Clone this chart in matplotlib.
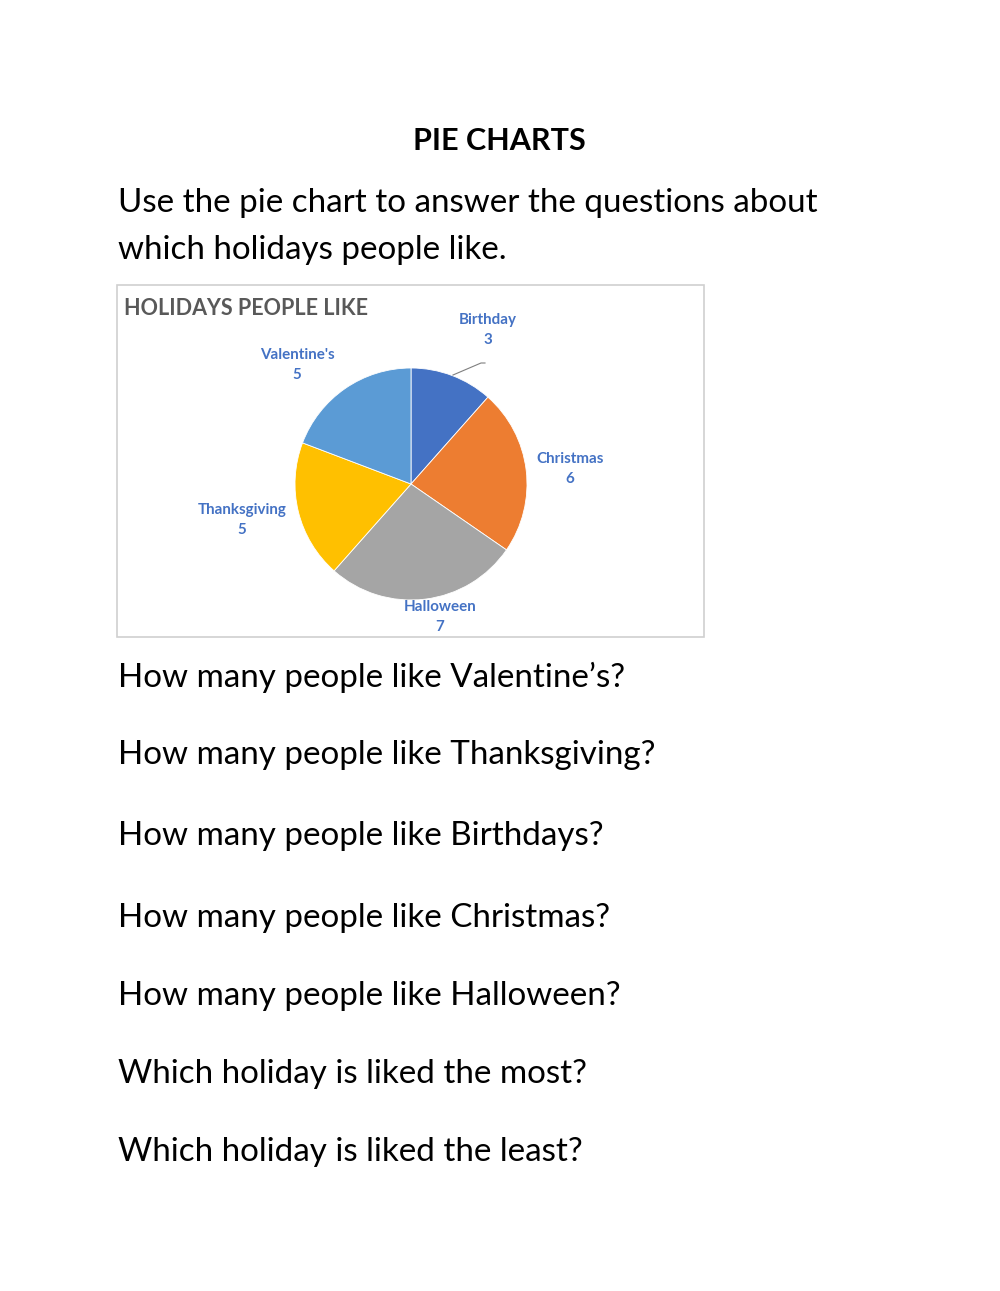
import matplotlib
matplotlib.use("Agg")
import matplotlib.pyplot as plt
from matplotlib.patches import Rectangle

plt.rcParams['font.family'] = ['Lato', 'DejaVu Sans']

# ---- data ----
holidays = ["Birthday", "Christmas", "Halloween", "Thanksgiving", "Valentine's"]
counts = [3, 6, 7, 5, 5]
colors = ["#4472C4", "#ED7D31", "#A5A5A5", "#FFC000", "#5B9BD5"]
page_title = "PIE CHARTS"
intro_lines = ["Use the pie chart to answer the questions about",
               "which holidays people like."]
chart_title = "HOLIDAYS PEOPLE LIKE"
questions = ["How many people like Valentine\u2019s?",
             "How many people like Thanksgiving?",
             "How many people like Birthdays?",
             "How many people like Christmas?",
             "How many people like Halloween?",
             "Which holiday is liked the most?",
             "Which holiday is liked the least?"]

W, H = 1000, 1291
fig = plt.figure(figsize=(W / 100, H / 100), dpi=100)
fig.patch.set_facecolor("white")
renderer = fig.canvas.get_renderer()


def fy(y):
    return 1 - y / H


def fit_size(text, target_px, weight="normal"):
    t = fig.text(0, 0, text, fontsize=10, fontweight=weight)
    w = t.get_window_extent(renderer).width
    t.remove()
    return 10 * target_px / w


body_size = fit_size(intro_lines[0], 700)
title_size = fit_size(page_title, 172, "bold")
ctitle_size = fit_size(chart_title, 244, "bold")
label_size = fit_size("Birthday", 58, "bold")

fig.text(499 / W, fy(150), page_title, fontsize=title_size, fontweight="bold",
         ha="center", va="baseline", color="black")
for txt, yb in zip(intro_lines, [212, 259]):
    fig.text(118 / W, fy(yb), txt, fontsize=body_size, ha="left", va="baseline", color="black")

q_baselines = [687, 764, 845, 927, 1005, 1083, 1161]
for txt, yb in zip(questions, q_baselines):
    fig.text(118 / W, fy(yb), txt, fontsize=body_size, ha="left", va="baseline", color="black")

# chart frame
fig.patches.append(Rectangle((117 / W, fy(637)), (704 - 117) / W, (637 - 285) / H,
                             transform=fig.transFigure, fill=False,
                             edgecolor="#D0D0D0", linewidth=1.2))
fig.text(124 / W, fy(315), chart_title, fontsize=ctitle_size, fontweight="bold",
         color="#595959", ha="left", va="baseline")

# pie axes
cx, cy, r = 411, 484, 116
ax = fig.add_axes([(cx - r) / W, fy(cy + r), 2 * r / W, 2 * r / H])
ax.pie(counts, colors=colors, startangle=90, counterclock=False, radius=1,
       wedgeprops=dict(edgecolor="white", linewidth=0.6))
ax.set_xlim(-1, 1)
ax.set_ylim(-1, 1)
ax.set_aspect("equal")
ax.axis("off")

label_pos = {"Birthday": (488, 330), "Christmas": (570, 469), "Halloween": (440, 617),
             "Thanksgiving": (242, 520), "Valentine's": (297, 365)}
for name, val in zip(holidays, counts):
    px, py = label_pos[name]
    ax.text((px - cx) / r, (cy - py) / r, f"{name}\n{val}", fontsize=label_size,
            fontweight="bold", color="#4472C4", ha="center", va="center",
            linespacing=1.6, clip_on=False)

# leader line for Birthday
ax.plot([(453 - cx) / r, (481 - cx) / r, (485 - cx) / r],
        [(cy - 375) / r, (cy - 363) / r, (cy - 363) / r],
        color="#7F7F7F", linewidth=0.8, clip_on=False)

fig.savefig("out.png", dpi=100, facecolor="white")
